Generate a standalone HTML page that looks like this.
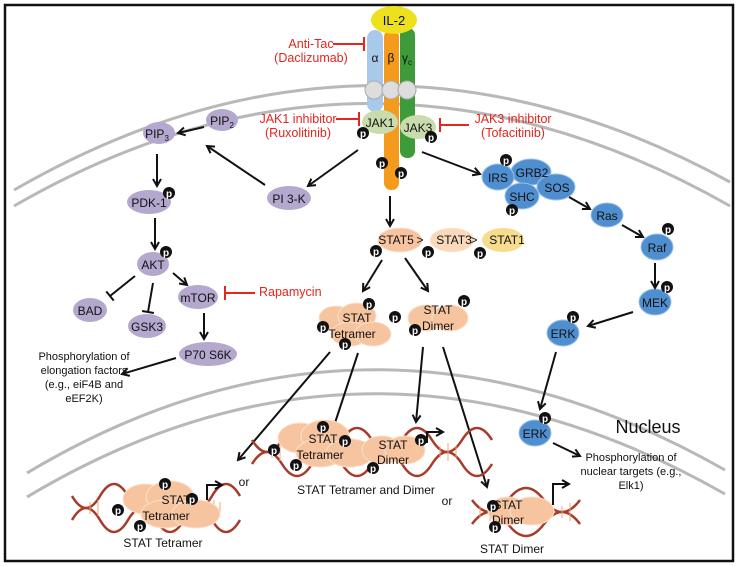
<!DOCTYPE html>
<html><head><meta charset="utf-8"><style>
html,body{margin:0;padding:0;background:#fff}
svg{display:block}
text{font-family:"Liberation Sans",Arial,sans-serif;font-size:12px;fill:#111}
.r{fill:#e3261e;font-size:12.5px}
.c{text-anchor:middle}
.pur{fill:#b5a8cf}
.blu{fill:#4f8fd0;stroke:#9cc0ea;stroke-width:1}
.stat{fill:#f6c49e;stroke:#fbe0cc;stroke-width:1}
.ar{stroke:#111;stroke-width:2;fill:none;marker-end:url(#a)}
.tb{stroke:#111;stroke-width:2;fill:none;marker-end:url(#t)}
.rtb{stroke:#e3261e;stroke-width:2;fill:none;marker-end:url(#rt)}
</style></head><body>
<svg width="738" height="566" viewBox="0 0 738 566" xmlns="http://www.w3.org/2000/svg">
<defs>
<marker id="a" markerWidth="10" markerHeight="10" refX="8" refY="5" orient="auto" markerUnits="userSpaceOnUse"><path d="M1,1 L8,5 L1,9" fill="none" stroke="#111" stroke-width="2"/></marker>
<marker id="t" markerWidth="10" markerHeight="12" refX="5" refY="6" orient="auto" markerUnits="userSpaceOnUse"><path d="M5,0 L5,12" stroke="#111" stroke-width="2"/></marker>
<marker id="rt" markerWidth="10" markerHeight="14" refX="5" refY="7" orient="auto" markerUnits="userSpaceOnUse"><path d="M5,0 L5,14" stroke="#e3261e" stroke-width="2"/></marker>
<g id="p"><circle r="6" fill="#111"/><text y="4" class="c" style="fill:#fff;font-size:10px;font-weight:bold">p</text></g>
</defs>
<rect x="5" y="5" width="728" height="556" fill="#fff" stroke="#111" stroke-width="2.5"/>
<!-- membranes -->
<g fill="none" stroke="#b8b8b8" stroke-width="3">
<path d="M14,190 Q370,-15 730,182"/>
<path d="M14,206 Q370,1 730,206"/>
<path d="M27,473 Q370,268 725,470"/>
<path d="M27,497 Q370,292 725,494"/>
</g>
<!-- receptor -->
<rect x="367" y="30" width="16" height="82" rx="8" fill="#a9c9ea"/>
<rect x="384" y="30" width="15" height="160" rx="7" fill="#f49a1c"/>
<rect x="400" y="28" width="15" height="130" rx="7" fill="#3d9b3a"/>
<g fill="#ddd" stroke="#aaa"><ellipse cx="374" cy="90" rx="9" ry="9"/><ellipse cx="391" cy="90" rx="9" ry="9"/><ellipse cx="407" cy="90" rx="9" ry="9"/></g>
<ellipse cx="394" cy="20" rx="23" ry="14" fill="#ede11e"/>
<text x="394" y="25" class="c" style="font-size:13px">IL-2</text>
<text x="375" y="62" class="c">α</text><text x="391" y="62" class="c">β</text><text x="407" y="62" class="c">γ<tspan style="font-size:8px" dy="3">c</tspan></text>
<ellipse cx="380" cy="122" rx="18" ry="12" fill="#c9dcae"/><text x="380" y="127" class="c">JAK1</text>
<ellipse cx="418" cy="127" rx="18" ry="12" fill="#c9dcae"/><text x="418" y="132" class="c">JAK3</text>
<use href="#p" x="363" y="133"/><use href="#p" x="431" y="137"/><use href="#p" x="382" y="163"/><use href="#p" x="401" y="173"/>
<!-- drugs -->
<text x="311" y="48" class="c r">Anti-Tac</text><text x="311" y="62" class="c r">(Daclizumab)</text>
<path d="M333,44 L364,44" class="rtb"/>
<text x="298" y="123" class="c r">JAK1 inhibitor</text><text x="298" y="137" class="c r">(Ruxolitinib)</text>
<path d="M336,119 L359,119" class="rtb"/>
<text x="513" y="123" class="c r">JAK3 inhibitor</text><text x="513" y="137" class="c r">(Tofacitinib)</text>
<path d="M469,125 L440,125" class="rtb"/>
<text x="259" y="296" class="r">Rapamycin</text>
<path d="M255,293 L225,293" class="rtb"/>
<!-- PI3K branch -->
<g class="pur">
<ellipse cx="222" cy="120" rx="16" ry="11"/><ellipse cx="159" cy="133" rx="16" ry="11"/>
<ellipse cx="149" cy="202" rx="22" ry="12"/><ellipse cx="153" cy="264" rx="16" ry="12"/>
<ellipse cx="90" cy="310" rx="17" ry="12"/><ellipse cx="147" cy="326" rx="19" ry="12"/>
<ellipse cx="198" cy="297" rx="20" ry="12"/><ellipse cx="208" cy="354" rx="29" ry="12"/>
<ellipse cx="289" cy="198" rx="22" ry="12"/>
</g>
<text x="222" y="125" class="c">PIP<tspan style="font-size:8px" dy="3">2</tspan></text>
<text x="157" y="138" class="c">PIP<tspan style="font-size:8px" dy="3">3</tspan></text>
<text x="149" y="207" class="c">PDK-1</text><text x="153" y="269" class="c">AKT</text>
<text x="90" y="315" class="c">BAD</text><text x="147" y="331" class="c">GSK3</text>
<text x="198" y="302" class="c">mTOR</text><text x="208" y="359" class="c">P70 S6K</text>
<text x="289" y="203" class="c">PI 3-K</text>
<use href="#p" x="169" y="193"/><use href="#p" x="166" y="252"/>
<path d="M204,127 L178,133" class="ar"/>
<path d="M265,185 L207,146" class="ar"/>
<path d="M358,150 L308,186" class="ar"/>
<path d="M157,154 L157,186" class="ar"/>
<path d="M155,218 L155,249" class="ar"/>
<path d="M173,273 L187,285" class="ar"/>
<path d="M135,276 L110,296" class="tb"/>
<path d="M153,283 L148,312" class="tb"/>
<path d="M204,313 L204,339" class="ar"/>
<path d="M176,358 L122,374" class="ar"/>
<text x="84" y="360" class="c" style="font-size:11px">Phosphorylation of</text>
<text x="84" y="374" class="c" style="font-size:11px">elongation factors</text>
<text x="84" y="388" class="c" style="font-size:11px">(e.g., eiF4B and</text>
<text x="84" y="402" class="c" style="font-size:11px">eEF2K)</text>
<!-- MAPK branch -->
<path d="M422,152 L480,174" class="ar"/>
<g class="blu">
<ellipse cx="531" cy="172" rx="20" ry="13"/><ellipse cx="556" cy="187" rx="19" ry="13"/>
<ellipse cx="498" cy="177" rx="16" ry="13"/><ellipse cx="522" cy="196" rx="17" ry="13"/>
<ellipse cx="607" cy="215" rx="16" ry="12"/><ellipse cx="657" cy="247" rx="16" ry="13"/>
<ellipse cx="655" cy="302" rx="16" ry="13"/><ellipse cx="563" cy="333" rx="16" ry="13"/>
<ellipse cx="535" cy="433" rx="16" ry="13"/>
</g>
<text x="498" y="182" class="c">IRS</text><text x="532" y="177" class="c">GRB2</text>
<text x="557" y="192" class="c">SOS</text><text x="522" y="201" class="c">SHC</text>
<text x="607" y="220" class="c">Ras</text><text x="657" y="252" class="c">Raf</text>
<text x="655" y="307" class="c">MEK</text><text x="563" y="338" class="c">ERK</text>
<text x="535" y="438" class="c">ERK</text>
<use href="#p" x="506" y="160"/><use href="#p" x="512" y="210"/><use href="#p" x="668" y="229"/>
<use href="#p" x="667" y="287"/><use href="#p" x="573" y="317"/><use href="#p" x="545" y="418"/>
<path d="M569,197 L590,209" class="ar"/>
<path d="M622,225 L643,237" class="ar"/>
<path d="M655,263 L655,288" class="ar"/>
<path d="M633,312 L588,326" class="ar"/>
<path d="M556,352 L540,409" class="ar"/>
<path d="M553,443 L580,456" class="ar"/>
<text x="648" y="433" class="c" style="font-size:18px">Nucleus</text>
<text x="631" y="461" class="c" style="font-size:11px">Phosphorylation of</text>
<text x="631" y="475" class="c" style="font-size:11px">nuclear targets (e.g.,</text>
<text x="631" y="489" class="c" style="font-size:11px">Elk1)</text>
<!-- STATs -->
<path d="M390,196 L390,226" class="ar"/>
<ellipse cx="400" cy="240" rx="22" ry="12" class="stat"/>
<ellipse cx="452" cy="240" rx="22" ry="12" fill="#fad9bc"/>
<ellipse cx="503" cy="240" rx="21" ry="12" fill="#f8dc8e"/>
<text x="396" y="244" class="c">STAT5</text><text x="420" y="244" class="c">&gt;</text>
<text x="454" y="244" class="c">STAT3</text><text x="474" y="244" class="c">&gt;</text>
<text x="507" y="244" class="c">STAT1</text>
<use href="#p" x="376" y="251"/><use href="#p" x="428" y="252"/><use href="#p" x="480" y="253"/>
<path d="M382,260 L363,291" class="ar"/>
<path d="M405,258 L428,291" class="ar"/>
<g class="stat">
<ellipse cx="336" cy="318" rx="17" ry="12"/><ellipse cx="357" cy="316" rx="19" ry="13"/>
<ellipse cx="350" cy="334" rx="19" ry="12"/><ellipse cx="373" cy="334" rx="18" ry="12"/>
<ellipse cx="426" cy="318" rx="18" ry="13"/><ellipse cx="450" cy="318" rx="18" ry="13"/>
</g>
<text x="357" y="322" class="c">STAT</text><text x="352" y="338" class="c">Tetramer</text>
<text x="438" y="314" class="c">STAT</text><text x="438" y="330" class="c">Dimer</text>
<use href="#p" x="369" y="304"/><use href="#p" x="395" y="317"/><use href="#p" x="323" y="327"/><use href="#p" x="345" y="344"/>
<use href="#p" x="464" y="301"/><use href="#p" x="415" y="330"/>
<path d="M330,352 L238,460" class="ar"/>
<path d="M358,353 L332,432" class="ar"/>
<path d="M423,347 L416,422" class="ar"/>
<path d="M443,347 L487,487" class="ar"/>
<!-- DNA -->
<g fill="none" stroke="#a83a2a" stroke-width="2.5">
<path d="M72,496 q14,24 28,0 t28,0 t28,0 t28,0 t28,0 t28,0"/>
<path d="M72,520 q14,-24 28,0 t28,0 t28,0 t28,0 t28,0 t28,0"/>
<path d="M252,440 q15,24 30,0 t30,0 t30,0 t30,0 t30,0 t30,0 t30,0 t30,0"/>
<path d="M252,464 q15,-24 30,0 t30,0 t30,0 t30,0 t30,0 t30,0 t30,0 t30,0"/>
<path d="M472,500 q18,24 36,0 t36,0 t36,0"/>
<path d="M472,524 q18,-24 36,0 t36,0 t36,0"/>
</g>
<g stroke="#f0a878" stroke-width="1">
<path d="M208,502v12M214,500v16M220,502v12M480,506v12M490,503v18M562,506v12M570,503v18M440,446v12M448,443v18M456,446v12M272,446v12M280,443v18M90,502v12M98,500v16"/>
</g>
<g class="stat">
<ellipse cx="145" cy="499" rx="22" ry="15"/><ellipse cx="170" cy="497" rx="24" ry="16"/>
<ellipse cx="165" cy="514" rx="24" ry="14"/><ellipse cx="196" cy="514" rx="24" ry="14"/>
<ellipse cx="300" cy="438" rx="22" ry="15"/><ellipse cx="325" cy="436" rx="24" ry="16"/>
<ellipse cx="320" cy="453" rx="24" ry="14"/><ellipse cx="350" cy="453" rx="24" ry="14"/>
<ellipse cx="382" cy="450" rx="20" ry="14"/><ellipse cx="405" cy="450" rx="20" ry="14"/>
<ellipse cx="508" cy="511" rx="20" ry="14"/><ellipse cx="532" cy="511" rx="22" ry="14"/>
</g>
<text x="176" y="504" class="c">STAT</text><text x="166" y="520" class="c">Tetramer</text>
<text x="323" y="443" class="c">STAT</text><text x="320" y="459" class="c">Tetramer</text>
<text x="393" y="449" class="c">STAT</text><text x="393" y="464" class="c">Dimer</text>
<text x="508" y="509" class="c">STAT</text><text x="508" y="524" class="c">Dimer</text>
<use href="#p" x="165" y="484"/><use href="#p" x="192" y="499"/><use href="#p" x="118" y="510"/><use href="#p" x="140" y="526"/>
<use href="#p" x="323" y="427"/><use href="#p" x="345" y="441"/><use href="#p" x="274" y="450"/><use href="#p" x="296" y="465"/>
<use href="#p" x="373" y="468"/><use href="#p" x="421" y="440"/>
<use href="#p" x="493" y="506"/><use href="#p" x="495" y="527"/>
<path d="M207,500 V485 H222" class="ar"/>
<path d="M427,443 V432 H443" class="ar"/>
<path d="M553,505 V484 H569" class="ar"/>
<text x="244" y="486" class="c">or</text>
<text x="447" y="505" class="c">or</text>
<text x="163" y="547" class="c">STAT Tetramer</text>
<text x="366" y="494" class="c">STAT Tetramer and Dimer</text>
<text x="512" y="553" class="c">STAT Dimer</text>
</svg>
</body></html>
